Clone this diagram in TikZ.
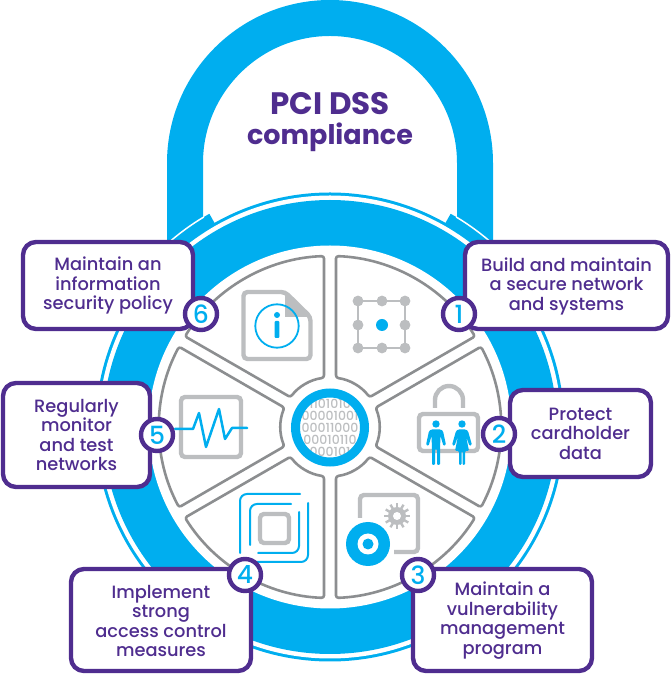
\documentclass[tikz,border=0pt]{standalone}
\usepackage{fontspec}
\setmainfont{Poppins Medium}[BoldFont={Poppins Bold}]
\definecolor{lockblue}{HTML}{00AEEF}
\definecolor{lockpurple}{HTML}{4F2D8F}
\definecolor{seggray}{HTML}{8C8E90}
\definecolor{icongray}{HTML}{BCBEC0}
\tikzset{
    stepbox/.style={draw=lockpurple, fill=white, line width=4.4pt, rounded corners=13pt, align=center,
        text=lockpurple, inner sep=0pt, font=\fontsize{17.8}{19.6}\selectfont},
    badge/.style={circle, draw=lockpurple, fill=white, line width=4.4pt, minimum size=32pt, inner sep=0pt,
        text=lockblue, font=\fontsize{25}{25}\selectfont},
    segline/.style={draw=seggray, fill=white, line width=2.6pt, rounded corners=2.5pt, line join=round},
    icongrayline/.style={draw=icongray, line width=4.4pt, rounded corners=4pt},
    iconblueline/.style={draw=lockblue, line width=2pt, line cap=round, rounded corners=7pt},
    digits/.style={text=icongray, inner sep=0pt, font=\fontsize{12.5}{12.5}\selectfont}
}
\begin{document}
\begin{tikzpicture}[x=1pt, y=1pt]
    \useasboundingbox (0,0) rectangle (670,675);

    \fill[lockblue] (167,425) -- (167,512) arc[start angle=180, end angle=0, radius=163] -- (493,425)
        -- (457,425) -- (457,512) arc[start angle=0, end angle=180, radius=127] -- (203,425) -- cycle;

\begin{scope}[shift={(330,248)}]
    \fill[lockblue] (119.5:245) arc[start angle=119.5, end angle=138, radius=245] -- (138:231) arc[start angle=138, end angle=119.5, radius=231] -- cycle;
    \fill[lockblue] (60.5:245) arc[start angle=60.5, end angle=42, radius=245] -- (42:231) arc[start angle=42, end angle=60.5, radius=231] -- cycle;
    \draw[white, line width=1.5pt] (121:245) arc[start angle=121, end angle=132, radius=245];
    \draw[white, line width=1.5pt] (59:245) arc[start angle=59, end angle=48, radius=245];
    \fill[lockblue] (0,0) circle[radius=234.5];
    \fill[white] (0,0) circle[radius=231.5];
    \fill[lockblue] (0,0) circle[radius=227];
    \fill[white] (0,0) circle[radius=181.5];
    \foreach \a in {0,60,...,300}
        \path[segline, rotate=\a] (88:171) arc[start angle=88, end angle=32, radius=171]
            -- (37:49.5) arc[start angle=37, end angle=83, radius=49.5] -- cycle;
    \begin{scope}
        \clip (0,0) circle[radius=31];
        \node[digits] (line1) at (0,23) {1101010};
        \node[digits] (line2) at (0,11) {00001001};
        \node[digits] (line3) at (0,-1) {00011000};
        \node[digits] (line4) at (0,-13) {00010110};
        \node[digits] (line5) at (0,-25) {00001010};
    \end{scope}
    \draw[lockblue, line width=9pt] (0,-0.5) circle[radius=34.5];
\end{scope}

    % network icon
    \draw[icongray, line width=1.6pt] (358,327) rectangle (405,374);
    \foreach \px/\py in {358/374,382/374,405/374,358/350,405/350,358/327,382/327,405/327}
        \fill[icongray] (\px,\py) circle[radius=5.4];
    \fill[lockblue] (382,350) circle[radius=6];

    % lock icon
    \draw[icongray, line width=4.4pt] (435,267) -- (435,275) arc[start angle=180, end angle=0, radius=14] -- (463,267);
    \draw[icongrayline, fill=white] (419,224) rectangle (478,261);
    \foreach \px in {436,462} \fill[lockblue] (\px,251) circle[radius=3.7];
    \fill[lockblue, rounded corners=1.2pt] (431,245.5) -- (441,245.5) -- (443,244) -- (446,230) -- (443.5,229) -- (440.5,239)
        -- (440,226) -- (440,210) -- (437,210) -- (437,226) -- (435,226) -- (435,210) -- (432,210) -- (432,226) -- (431.5,239) -- (428.5,229) -- (426,230) -- (429,244) -- cycle;
    \fill[lockblue, rounded corners=1.2pt] (458,245.5) -- (466,245.5) -- (468,244) -- (472,230) -- (469.5,229) -- (466,239)
        -- (469,224) -- (465,224) -- (465,210) -- (462.5,210) -- (462.5,224) -- (461.5,224) -- (461.5,210) -- (459,210) -- (459,224) -- (455,224) -- (458,239) -- (454.5,229) -- (452,230) -- (456,244) -- cycle;

    % cd icon
    \draw[icongrayline, line cap=butt] (360,157) -- (360,180) -- (418,180) -- (418,123) -- (394,123);
    \foreach \a in {0,30,...,330}
        \draw[icongray, line width=2.4pt] (397,159) ++(\a:7) -- ++(\a:6);
    \fill[icongray] (397,159) circle[radius=9];
    \fill[white] (397,159) circle[radius=4];
    \fill[lockblue] (368,131) circle[radius=22];
    \fill[white] (368,131) circle[radius=10.5];
    \fill[lockblue] (368,131) circle[radius=5.5];

    % access icon
    \draw[iconblueline] (300,181) -- (240,181) -- (240,122);
    \draw[iconblueline] (291,171) -- (250,171) -- (250,130);
    \draw[iconblueline] (308,172) -- (308,113) -- (250,113);
    \draw[iconblueline] (299,163) -- (299,122) -- (258,122);
    \draw[icongrayline] (260,132) rectangle (289,161);

    % pulse icon
    \draw[icongrayline] (181,218) rectangle (241,278);
    \draw[lockblue, line width=2.5pt, line cap=round, line join=round] (175,246) -- (193,246) -- (199,262) -- (206,228)
        -- (219,266) -- (225,236) -- (232,247) -- (247,247);

    % document icon
    \draw[icongrayline] (285,383) -- (243.5,383) -- (243.5,316) -- (310.5,316) -- (310.5,358) -- cycle;
    \fill[icongray] (285,384) -- (311,358) -- (285,358) -- cycle;
    \draw[lockblue, line width=1.8pt] (277,349) circle[radius=21.7];
    \fill[lockblue] (277,360) circle[radius=3];
    \fill[lockblue, rounded corners=1pt] (274.6,354) rectangle (279.4,337);

    \node[lockpurple, align=center, font=\fontsize{27}{30}\bfseries\selectfont] (title) at (330,553) {{\fontsize{31}{30}\selectfont PCI DSS}\\compliance};

    \node[stepbox, minimum width=203pt, minimum height=87pt] (step1) at (566.5,389.5) {\rule{0pt}{15pt}Build and maintain\\a secure network\\and systems};
    \node[stepbox, minimum width=141pt, minimum height=87pt] (step2) at (580.5,241.5) {Protect\\cardholder\\data};
    \node[stepbox, minimum width=179pt, minimum height=102pt] (step3) at (502.5,55) {\rule{0pt}{15pt}Maintain a\\vulnerability\\management\\program};
    \node[stepbox, minimum width=180pt, minimum height=102pt] (step4) at (161,55) {\rule{0pt}{15pt}Implement\\strong\\access control\\measures};
    \node[stepbox, minimum width=147pt, minimum height=104pt] (step5) at (76.5,240) {Regularly\\monitor\\and test\\networks};
    \node[stepbox, minimum width=170pt, minimum height=87pt] (step6) at (108,389.5) {Maintain an\\information\\security policy};

    \node[badge] (num1) at (459,361) {1};
    \node[badge] (num2) at (499,241) {2};
    \node[badge] (num3) at (418,100) {3};
    \node[badge] (num4) at (245,100) {4};
    \node[badge] (num5) at (157,240) {5};
    \node[badge] (num6) at (201,361) {6};
\end{tikzpicture}
\end{document}
